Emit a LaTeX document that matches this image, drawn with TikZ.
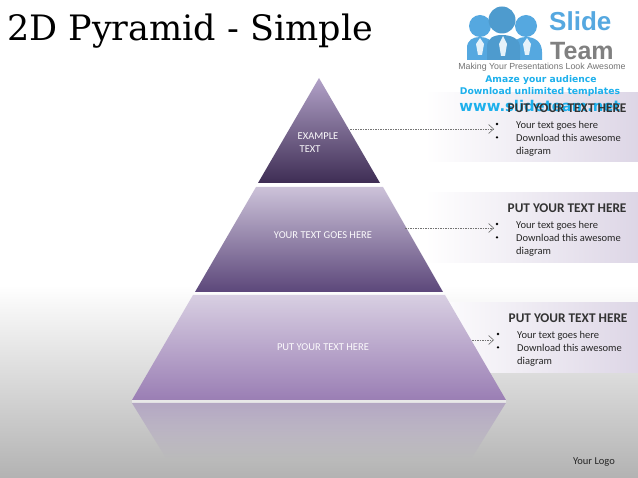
\documentclass[tikz,border=0pt]{standalone}
\usepackage{fontspec}
\setmainfont{Carlito}
\newfontfamily\titlefont{DejaVu Serif}
\newfontfamily\logofont{Liberation Sans}
\newfontfamily\wwwfont{DejaVu Sans}
\usetikzlibrary{arrows.meta, positioning, fadings}
\definecolor{logoblue}{HTML}{55A8E0}
\definecolor{adblue}{HTML}{1DB0EC}
\definecolor{panelpurple}{HTML}{DDD6E6}
\definecolor{topA}{HTML}{B2A2C8}
\definecolor{topB}{HTML}{3E2D54}
\definecolor{midA}{HTML}{CCC2D9}
\definecolor{midB}{HTML}{5C477A}
\definecolor{lowA}{HTML}{D8CFE2}
\definecolor{lowB}{HTML}{9A7EB4}
\definecolor{mirror}{HTML}{A896BE}
\tikzset{%
	layerlabel/.style={text=white!90!lowA, font=\fontsize{10.5}{12.5}\selectfont, inner sep=0mm, align=left},
	head/.style={font=\bfseries\fontsize{13.3}{14}\selectfont, text=black!80, inner sep=0mm},
	bullettext/.style={font=\fontsize{10.5}{12.8}\selectfont, text=black!85, inner sep=0mm, anchor=north west, align=left},
	dot/.style={circle, fill=black, inner sep=0mm, minimum size=2.6pt},
	link/.style={-{Straight Barb[length=5pt,width=9pt]}, dash pattern=on 1.6pt off 0.9pt, black!55, line width=0.6pt},
	panel/.style={left color=white, right color=panelpurple, draw=none},
	person/.style={fill=logoblue, draw=none},
	tie/.style={fill=white!85!logoblue, draw=none},
	adtext/.style={text=adblue, inner sep=0mm}
}
\newcommand{\SideBlock}[4]{%
	\node [head, anchor=west] (#1h) at (#2,#3+0.5) {PUT YOUR TEXT HERE};
	\node [dot] (#1a) at (#4-19,#3+16) {};
	\node [dot, below=10.4pt of #1a] (#1b) {};
	\node [bullettext] (#1t) at (#4,#3+9.5+3.5) {Your text goes here\\Download this awesome\\diagram};
}

\begin{document}
\begin{tikzpicture}[x=1pt, y=-1pt]
	\useasboundingbox (0,0) rectangle (638,478);
	%background
	\fill [white] (0,0) rectangle (638,285);
	\shade [top color=white, bottom color=black!30] (0,285) rectangle (638,478);
	%panels
	\shade [panel] (425,93) rectangle (638,162);
	\shade [panel] (425,193) rectangle (638,263);
	\shade [panel] (425,303) rectangle (638,373);

	%layers
	\shade [top color=topA, bottom color=topB]
		(319,78) -- (380,183) -- (258,183) -- cycle;
	\shade [top color=midA, bottom color=midB]
		(256,187) -- (383,187) -- (443,292) -- (195,292) -- cycle;
	\shade [top color=lowA, bottom color=lowB]
		(193,295) -- (445,295) -- (506,400) -- (132,400) -- cycle;
	\fill [black!9] (132,400) rectangle (506,403);
	%reflection
	\fill [mirror, path fading=south, fill opacity=0.7]
		(132,403) -- (506,403) -- (472,458) -- (166,458) -- cycle;

	%labels
	\node [layerlabel] (ex) at (318,143) {EXAMPLE\\[0.5pt]\hspace*{2pt}TEXT};
	\node [layerlabel] (mid) at (323,235.5) {YOUR TEXT GOES HERE};
	\node [layerlabel] (low) at (323,347.5) {PUT YOUR TEXT HERE};

	%logo
	\node [circle, fill=logoblue, minimum size=22pt, inner sep=0mm] (hl) at (480,26) {};
	\node [circle, fill=logoblue, minimum size=22pt, inner sep=0mm] (hr) at (526,26) {};
	\fill [person] (467,60) -- (467,48) .. controls (467,40) and (473,37) .. (480,37) .. controls (487,37) and (493,40) .. (493,48) -- (493,60) -- cycle;
	\fill [person] (513,60) -- (513,48) .. controls (513,40) and (519,37) .. (526,37) .. controls (535,37) and (542,42) .. (542,52) -- (542,60) -- cycle;
	\node [circle, fill=logoblue!92!black, minimum size=27pt, inner sep=0mm] (hc) at (502,20) {};
	\fill [logoblue!92!black] (487,60) -- (487,47) .. controls (487,38) and (494,35) .. (502,35) .. controls (510,35) and (520,38) .. (520,47) -- (520,60) -- cycle;
	\fill [tie] (480,38) -- (484,44) -- (482,55) -- (478,55) -- (476,44) -- cycle;
	\fill [tie] (503,36) -- (507,44) -- (505,56) -- (501,56) -- (499,44) -- cycle;
	\fill [tie] (527,38) -- (531,44) -- (529,55) -- (525,55) -- (523,44) -- cycle;
	\node [inner sep=0mm, anchor=west, text=logoblue, font=\logofont\bfseries\fontsize{26}{26}\selectfont] (slide) at (549,21) {Slide};
	\node [inner sep=0mm, anchor=west, text=black!50, font=\logofont\bfseries\fontsize{25}{26}\selectfont] (team) at (550,51.5) {Team};
	\node [inner sep=0mm, text=black!55, font=\logofont\fontsize{8.8}{10}\selectfont] (slogan) at (542,67) {Making Your Presentations Look Awesome};
	\node [adtext, font=\wwwfont\bfseries\fontsize{9.2}{10}\selectfont] (amaze) at (541,80) {Amaze your audience};
	\node [adtext, font=\wwwfont\bfseries\fontsize{9.25}{10}\selectfont] (download) at (540,92) {Download unlimited templates};
	\node [adtext, font=\wwwfont\bfseries\fontsize{14.8}{15}\selectfont] (www) at (540,106) {www.slideteam.net};

	%side text
	\SideBlock{one}{507.5}{108}{516}
	\SideBlock{two}{507.5}{208}{516}
	\SideBlock{three}{508.5}{318}{517}

	%arrows
	\coordinate (s1) at (350,129);
	\coordinate (e1) at (494,129);
	\coordinate (s2) at (405,228);
	\coordinate (e2) at (494,228);
	\coordinate (s3) at (472,340);
	\coordinate (e3) at (494,340);
	\draw [link] (s1) to (e1);
	\draw [link] (s2) to (e2);
	\draw [link] (s3) to (e3);

	%title
	\node [inner sep=0mm, anchor=west, font=\titlefont\fontsize{35}{37}\selectfont] (title) at (7,31.5) {2D Pyramid - Simple};
	\node [inner sep=0mm, text=black!85, font=\fontsize{10.5}{12}\selectfont] (logo) at (594,462) {Your Logo};
\end{tikzpicture}
\end{document}
